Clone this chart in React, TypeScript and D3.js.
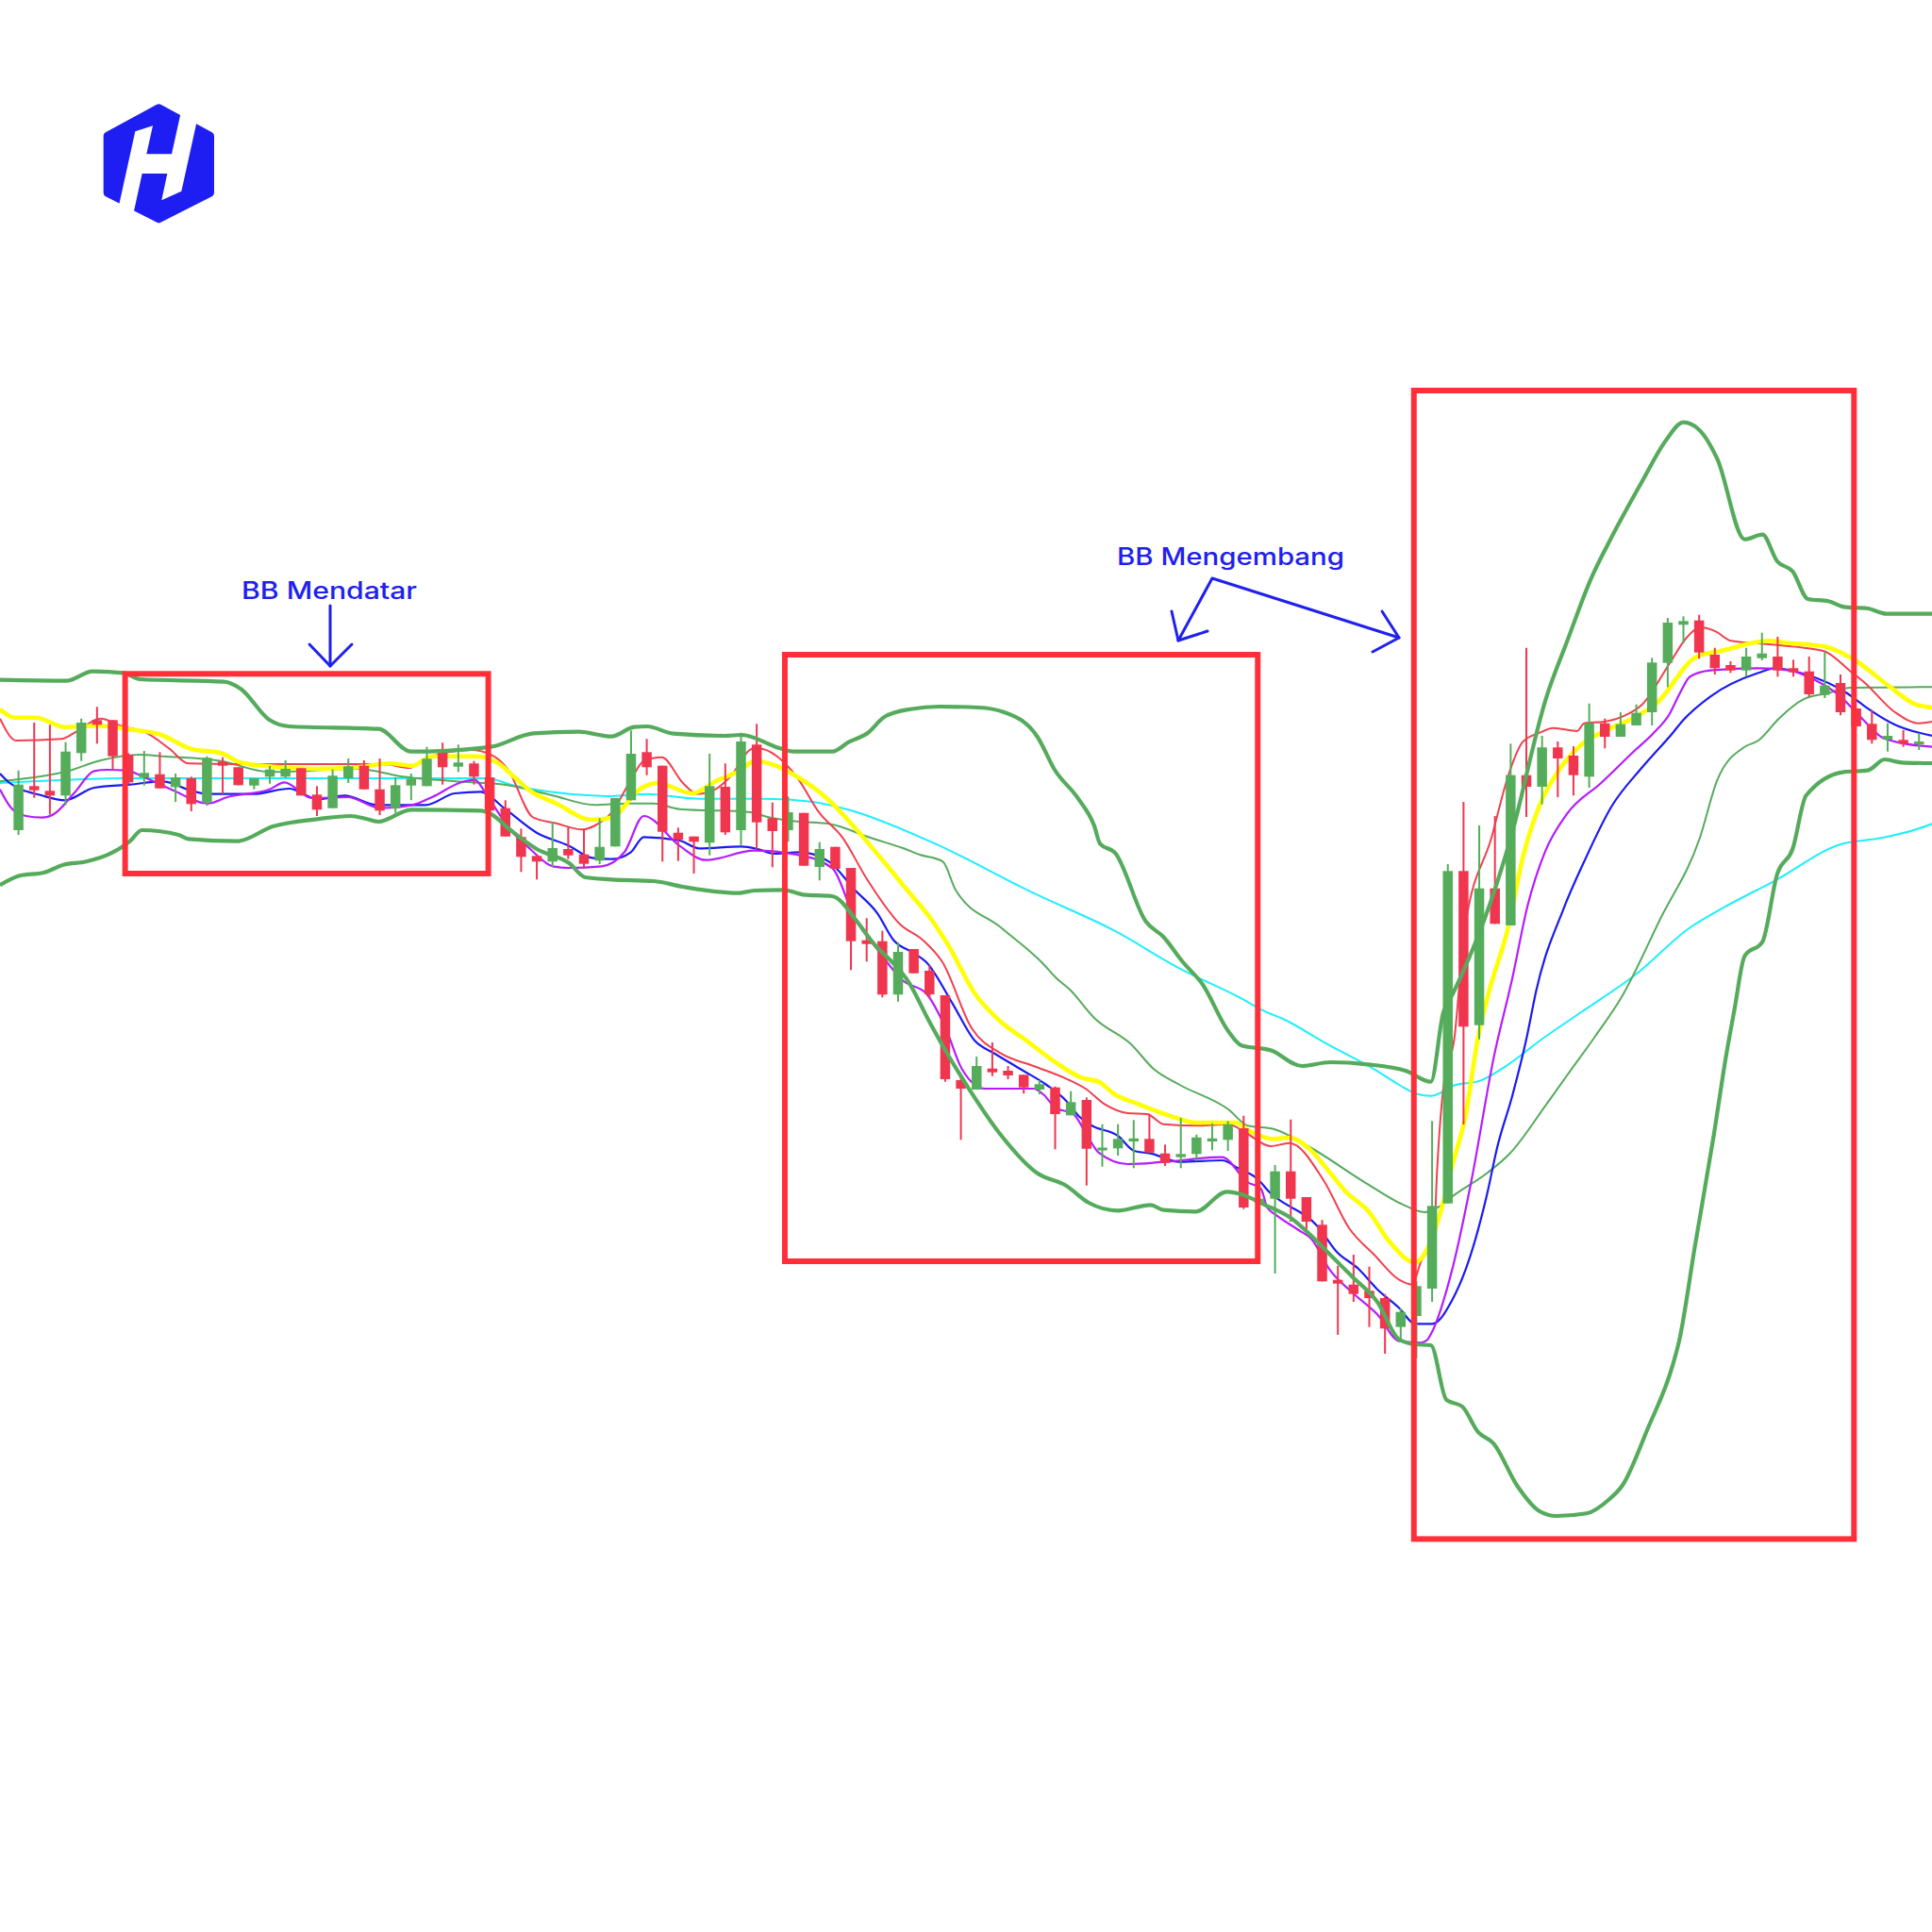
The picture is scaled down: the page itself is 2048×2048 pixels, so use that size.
import React from "react";
import * as d3 from "d3";

// ---- candle data (index 0..121), price units ----
const opens = [
  1120, 1166.7, 1161.7, 1156.7, 1201.7, 1236.7, 1236.7, 1200, 1176, 1179.3,
  1165.7, 1175, 1149.3, 1192.7, 1186.7, 1167.3, 1176.7, 1176.7, 1185.7, 1157.7,
  1143.3, 1175, 1188.3, 1163.3, 1143.3, 1167.3, 1166.7, 1202.7, 1187.3, 1190.7,
  1176, 1143.3, 1112.7, 1092.7, 1086.7, 1100, 1094.3, 1087.7, 1102.7, 1151.7,
  1202.7, 1188.3, 1117.3, 1113.3, 1106.7, 1166, 1120, 1210.7, 1132.7, 1120,
  1138.3, 1081, 1102.3, 1080, 1003.3, 1002.3, 945.7, 994, 971, 945,
  855, 845, 867.3, 865, 860.7, 845, 847.3, 817.7, 834, 780.7,
  782.7, 790, 792.7, 777.3, 773.3, 776.7, 790, 791.7, 804, 725,
  729.3, 758.3, 731, 701.7, 643.3, 638.3, 631.7, 624, 593.3, 605,
  634, 724.3, 1076.7, 913.3, 1058.3, 1019, 1178.3, 1166, 1207.7, 1199,
  1176.7, 1233.3, 1219, 1231, 1245, 1297.3, 1337.7, 1342.3, 1306, 1295,
  1289.3, 1302.3, 1304, 1291.7, 1288.3, 1263.3, 1276, 1249, 1232.7, 1216,
  1215.7, 1211.7,
];
const highs = [
  1183.3, 1234, 1231.7, 1213.3, 1238.3, 1250.7, 1236.7, 1201.7, 1204, 1202.7,
  1180, 1176.7, 1198.3, 1197.3, 1186.7, 1175, 1188.3, 1194, 1185.7, 1166.7,
  1184.3, 1196, 1194, 1196, 1176, 1180, 1208.3, 1212.7, 1210.7, 1193.3,
  1176, 1151.7, 1121.7, 1092.7, 1129, 1124, 1120.7, 1132.7, 1154, 1225.7,
  1216.7, 1188.3, 1122.7, 1113.3, 1201, 1190.7, 1223.3, 1232.7, 1149.3, 1155.7,
  1138.3, 1107.3, 1102.3, 1080, 1026.7, 1013.3, 1001, 994, 976.7, 945,
  859.3, 880, 895, 870, 860.7, 855, 848.3, 843.3, 836.7, 808.3,
  808.3, 812.7, 819.3, 786.7, 815, 797.3, 809.3, 811.7, 817.3, 750,
  765, 813.3, 731, 706.7, 658.3, 670, 657.3, 628.3, 613.3, 641.7,
  811.7, 1084, 1150, 1125, 1135, 1211.7, 1313.3, 1220, 1214, 1209,
  1254.3, 1238.3, 1245, 1253.3, 1302.7, 1345, 1346.7, 1348.3, 1313.3, 1299,
  1313.3, 1329.3, 1325, 1300.7, 1304, 1309.3, 1285, 1249, 1247.3, 1233.3,
  1226, 1222.7,
];
const lows = [
  1115, 1154.3, 1136.7, 1146.7, 1193.3, 1211.7, 1183.3, 1168.3, 1167.3, 1164.3,
  1150, 1140, 1146, 1158.3, 1167.7, 1163.3, 1169.3, 1175, 1156.7, 1135,
  1143.3, 1170, 1163.3, 1136, 1138.3, 1151.7, 1166.7, 1168.3, 1181.7, 1168.3,
  1137.3, 1113.3, 1075.7, 1067.7, 1080.7, 1089.3, 1079.3, 1084, 1102.7, 1151.7,
  1178.3, 1086.7, 1087.3, 1074, 1093.3, 1115, 1103.3, 1100, 1080.7, 1107.7,
  1082.3, 1066.7, 1079, 971.7, 980.7, 942.7, 938.3, 968.3, 941.7, 853.3,
  791.7, 845, 859.3, 856, 840.7, 840, 781.7, 817.7, 743.3, 763.3,
  775, 761.7, 778.3, 764, 761.7, 769.3, 780.7, 780, 718.3, 717.3,
  650, 705, 696.7, 641.7, 585, 620, 593.3, 565, 580, 560,
  620, 724.3, 808, 898.3, 1020.7, 1019, 1134, 1147.3, 1155, 1156.7,
  1165, 1206.7, 1219, 1231, 1231, 1271.7, 1318.3, 1301.7, 1285, 1286.7,
  1282.7, 1300, 1282.7, 1282.7, 1261.7, 1260, 1241.7, 1230, 1211.7, 1203.3,
  1208.3, 1205,
];
const closes = [
  1168.3, 1162.3, 1156.7, 1203.3, 1234, 1231.7, 1198.3, 1170.7, 1180.7, 1164.3,
  1176, 1147.7, 1196.7, 1188.3, 1167.7, 1175, 1184.3, 1185, 1156.7, 1141.7,
  1177.7, 1187.7, 1163.3, 1140.7, 1167.7, 1174.3, 1195.7, 1186.7, 1191.7, 1176.7,
  1140.7, 1113.3, 1091.7, 1086.7, 1101, 1093.3, 1084.3, 1102.3, 1154, 1201,
  1186.7, 1118.3, 1110, 1107.7, 1166.7, 1117.7, 1214, 1128.3, 1119, 1139,
  1082.3, 1100, 1079, 1002.3, 999.3, 945.7, 991, 968.3, 946, 856,
  846, 870, 863.3, 860, 847.3, 850.7, 819, 831.7, 782.3, 783.3,
  792.7, 793.3, 778.3, 767.3, 776.7, 794.3, 793.3, 808.3, 720, 729.3,
  758.3, 729.3, 705, 641.7, 639.3, 628.3, 624, 591.7, 609.3, 636.7,
  721.7, 1076.7, 911.7, 1058.3, 1020.7, 1178.3, 1166, 1207.7, 1196, 1178.3,
  1233.3, 1219, 1232.3, 1244.3, 1297.7, 1340, 1341.7, 1308.3, 1291.7, 1289.3,
  1304, 1307.3, 1289.3, 1287.3, 1264, 1273.3, 1245, 1230, 1215.7, 1220,
  1211.7, 1213.3,
];

type Knot = [number, number];

// ---- indicator lines: [bar index, price] ----
const upperBand: Knot[] = [
  [-1.18, 1279.3], [3.06, 1278.3], [4.72, 1288.3], [6.68, 1286.7], [7.72, 1280], [13.09, 1277.3],
  [14.13, 1270], [15.99, 1236.7], [17.23, 1230], [22.92, 1227.3], [24.99, 1203.3], [30.05, 1208.3],
  [32.78, 1222.7], [35.68, 1224.3], [37.75, 1219.3], [39.2, 1229.3], [40.02, 1230], [41.68, 1222.3],
  [44.98, 1220], [46.02, 1221], [48.5, 1206.7], [49.33, 1203.3], [51.81, 1203.3], [52.85, 1213.3],
  [54.09, 1223.3], [55.12, 1240], [56.78, 1248.3], [58.64, 1251], [61.12, 1250], [62.76, 1245],
  [64.87, 1219], [65.97, 1184], [67.46, 1153.6], [68.48, 1125], [68.87, 1105.3], [69.81, 1096.2],
  [71.77, 1023.3], [72.9, 1006.7], [74.14, 980], [75.38, 956.7], [77.03, 906.7], [77.86, 891.7],
  [79.72, 886.7], [81.71, 870], [83.51, 874], [85.91, 871.7], [88.31, 865], [89.92, 853.3],
  [90.71, 926.7], [91.32, 946.7], [92.32, 983.3], [93.32, 1025], [94.92, 1106.7], [97.29, 1261.7],
  [98.59, 1320], [100.12, 1386.7], [101.2, 1423.3], [103.38, 1490], [104.89, 1533.3], [105.99, 1552.3],
  [106.96, 1545], [108.16, 1513.3], [109.9, 1428.3], [111.03, 1433.3], [111.97, 1405], [112.95, 1394.3],
  [113.93, 1365], [115.23, 1362.7], [116.21, 1356.7], [117.73, 1355], [118.93, 1349.3], [121.83, 1349.3],
];
const lowerBand: Knot[] = [
  [-1.18, 1061.7], [0.07, 1071.7], [1.62, 1075], [2.86, 1083.3], [4.31, 1086.7], [7.1, 1108.3],
  [7.86, 1120], [10.2, 1115], [10.82, 1110.7], [13.92, 1108.3], [16.2, 1124], [18.99, 1131.7],
  [21.16, 1135], [22.2, 1131.7], [22.92, 1129], [24.99, 1141.7], [29.44, 1140.7], [30.05, 1137.3],
  [31.33, 1120], [32.99, 1100], [35.06, 1085], [36.09, 1070], [37.75, 1067.7], [40.44, 1066],
  [42.3, 1060], [45.81, 1053.3], [46.85, 1056], [48.71, 1056.7], [49.94, 1051.7], [51.8, 1050],
  [53.45, 1021.7], [54.28, 1003.3], [56.76, 956.7], [58, 916.7], [59.24, 880], [60.48, 846.7],
  [62.55, 796.7], [64.83, 756.7], [66.69, 743.3], [68.14, 725], [70, 716.7], [72.07, 722.7],
  [72.9, 717.3], [74.96, 715.7], [76.92, 736.7], [79.72, 720], [80.91, 710], [82.31, 690],
  [83.31, 673.3], [84.91, 646.7], [86.51, 620], [87.91, 580], [88.91, 575], [89.92, 574],
  [90.91, 516.1], [91.92, 509], [92.92, 482.1], [93.92, 469.7], [95.42, 425], [96.82, 398.3],
  [97.92, 393], [99.83, 395.7], [101.23, 410], [102.13, 425.7], [103.73, 485.7], [105.33, 553.6],
  [105.73, 578.6], [106.73, 678.6], [107.93, 796.4], [108.73, 882.1], [109.25, 930], [109.9, 986.7],
  [111.03, 1001.7], [111.97, 1073.3], [112.95, 1100], [113.81, 1156.7], [116.21, 1181.7], [117.73, 1183.3],
  [118.82, 1195], [119.9, 1191.7], [121.83, 1191],
];
const midBand: Knot[] = [
  [-1.18, 1171.7], [1.51, 1177.3], [2.96, 1181.7], [5.24, 1194], [7.72, 1200], [9.17, 1198.3],
  [12.89, 1193.3], [15.99, 1181.7], [21.57, 1185], [24.47, 1176.7], [28.85, 1170.7], [30.92, 1168.3],
  [34.02, 1156.7], [36.71, 1146.7], [38.78, 1148.3], [40.44, 1148.3], [42.09, 1142.3], [46.43, 1139.3],
  [47.88, 1133.3], [49.54, 1129.3], [51.6, 1126.7], [54.28, 1111.7], [56.35, 1100.7], [57.38, 1094],
  [58.85, 1086.7], [59.66, 1056.7], [62.55, 1016.7], [65.24, 978.3], [66.07, 963.3], [66.89, 951.7],
  [68.55, 920], [70.82, 893.3], [72.28, 866.7], [73.93, 850], [77.03, 824], [78.27, 806.7],
  [79.9, 803.3], [82.11, 785], [85.71, 746.7], [88.11, 723.3], [89.51, 715], [90.52, 721.7],
  [91.32, 732.1], [93.52, 756.7], [94.92, 776.7], [97.32, 830.4], [98.59, 860], [100.32, 900],
  [102.07, 943.3], [104.56, 1027], [107.05, 1112], [108.16, 1173.3], [109.9, 1208.3], [110.77, 1215],
  [112.08, 1238.3], [113.6, 1258.3], [115.12, 1265], [116.64, 1271], [121.83, 1271.7],
];
const yellowLine: Knot[] = [
  [-1.18, 1248.3], [-0.25, 1239.3], [1.1, 1239.3], [2.96, 1229.3], [5.03, 1230.7], [7.1, 1226.7],
  [8.96, 1221.7], [11.03, 1206], [12.89, 1201.7], [14.13, 1191.7], [16.2, 1187.3], [19.09, 1185],
  [21.57, 1186.7], [23.65, 1190.7], [25.09, 1188.3], [26.33, 1198.3], [29.02, 1198.3], [30.47, 1191.7],
  [31.54, 1176.7], [32.58, 1161.7], [34.23, 1148.3], [36.5, 1131], [37.75, 1133.3], [39.61, 1164],
  [40.64, 1170], [42.92, 1159], [44.37, 1171.7], [46.02, 1184], [46.85, 1193.3], [49.74, 1175],
  [51.6, 1151.7], [52.85, 1130], [54.92, 1090], [56.57, 1056.7], [58.21, 1023.3], [59.24, 996.7],
  [60.89, 946.7], [62.55, 916.7], [64.2, 896.7], [66.07, 873.3], [67.72, 857.3], [68.76, 853.3],
  [69.79, 840], [71.24, 830], [73.72, 815], [74.96, 810], [77.44, 810], [78.48, 800],
  [79.9, 792.7], [80.91, 794], [82.11, 783.3], [83.51, 756.7], [84.51, 736.7], [85.91, 716.7],
  [87.31, 683.3], [88.91, 661.7], [89.71, 676.7], [90.52, 714.3], [91.32, 766.7], [92.12, 816.7],
  [92.92, 900], [93.59, 946.7], [94.89, 1020], [95.76, 1090], [96.85, 1146.7], [97.93, 1180],
  [99.46, 1210], [101.2, 1226.7], [102.94, 1240], [104.25, 1254], [106.85, 1304], [108.38, 1310],
  [111.42, 1320.7], [112.73, 1318.3], [114.91, 1315], [117.09, 1298.3], [119.04, 1273.3], [120.78, 1253.3],
  [121.83, 1250],
];
const redLine: Knot[] = [
  [-1.18, 1238.3], [-0.14, 1215], [2.75, 1216.7], [3.58, 1223.3], [5.24, 1238.3], [6.47, 1230.7],
  [8.13, 1223.3], [9.58, 1206.7], [10.82, 1190.7], [13.92, 1190], [23.23, 1190], [24.89, 1186],
  [25.92, 1196], [28.82, 1205], [30.26, 1198.3], [31.13, 1185], [32.78, 1133.3], [34.23, 1127.3],
  [35.89, 1120.7], [36.71, 1125], [37.75, 1138.3], [38.99, 1173.3], [39.81, 1193.3], [40.95, 1197.3],
  [42.3, 1170], [43.23, 1158.3], [44.37, 1163.3], [45.4, 1178.3], [46.64, 1205.7], [47.06, 1206.7],
  [49.54, 1176.7], [50.99, 1138.3], [52.41, 1113.3], [54.07, 1066.7], [56.14, 1020], [57.59, 1003.3],
  [58.83, 980], [60.69, 910], [62.55, 883.3], [64.62, 870], [66.69, 856.7], [67.93, 846],
  [69.17, 829.3], [70.62, 820], [71.86, 819], [72.9, 808.3], [75.17, 806.7], [77.03, 808.3],
  [78.07, 800], [79.71, 785], [80.91, 788.3], [83.11, 748.3], [84.71, 698.3], [86.31, 670],
  [87.91, 643.3], [88.71, 638.3], [89.31, 663.3], [90.11, 686.7], [90.31, 757.1], [90.71, 846.4],
  [91.42, 900], [92.06, 1013.3], [93.8, 1113.3], [94.89, 1180], [95.76, 1213.3], [96.85, 1223.3],
  [97.72, 1228.3], [99.24, 1225], [99.68, 1233.3], [100.98, 1235], [102.5, 1243.3], [103.38, 1253.3],
  [105.12, 1296.7], [106.2, 1324], [107.08, 1335], [108.05, 1330.7], [109.03, 1320.7], [111.64, 1316.7],
  [114.91, 1310], [116.64, 1288.3], [117.51, 1276.7], [119.47, 1245], [120.99, 1233.3], [121.83, 1235],
];
const purpleLine: Knot[] = [
  [-1.18, 1163.3], [-0.45, 1143.3], [0.48, 1135], [1.51, 1133.3], [2.23, 1136.7], [3.58, 1160],
  [4.82, 1182.7], [5.65, 1184], [6.89, 1183.3], [7.92, 1176.7], [9.78, 1162.7], [12.06, 1148.3],
  [13.3, 1155], [15.99, 1163.3], [16.93, 1170.7], [18.68, 1154], [20.95, 1155], [23.03, 1143.3],
  [25.09, 1146.7], [26.33, 1155], [28.19, 1170.7], [29.02, 1173.3], [29.95, 1153.3], [31.33, 1120],
  [32.58, 1100], [34.02, 1081.7], [35.06, 1080], [37.13, 1081.7], [38.58, 1096.7], [39.81, 1135],
  [42.09, 1103.3], [43.75, 1088.3], [46.85, 1098.3], [49.54, 1094], [51.8, 1080], [53.24, 1026.7],
  [54.69, 993.3], [56.35, 960], [57.8, 946.7], [59.03, 910], [60.07, 866.7], [61.52, 846],
  [64.62, 846], [65.24, 840], [66.07, 825], [67.1, 820], [68.14, 793.3], [68.76, 778.3],
  [70.62, 766], [72.9, 768.3], [76.62, 773.3], [78.27, 746.7], [79.1, 740], [79.5, 720],
  [80.1, 711.7], [81.51, 696], [82.31, 686.7], [83.51, 653.3], [84.91, 630], [86.51, 606.7],
  [87.91, 578.3], [89.31, 576.7], [89.71, 580], [89.92, 585.7], [91.32, 657.1], [92.52, 750],
  [93.92, 878.6], [95.11, 963.3], [96.08, 1040], [97.18, 1096.7], [98.59, 1137.3], [100.76, 1170],
  [102.94, 1205], [104.03, 1221.7], [105.12, 1243.3], [105.77, 1265], [106.42, 1282.7], [107.72, 1289.3],
  [110.77, 1291.7], [112.73, 1289.3], [114.27, 1280], [116, 1261.7], [117.09, 1243.3], [118.83, 1216.7],
  [121.83, 1208.3],
];
const blueLine: Knot[] = [
  [-1.18, 1180], [-0.56, 1170], [1.51, 1156.7], [2.96, 1151.7], [4.82, 1165], [7.1, 1168.3],
  [9.17, 1171.7], [11.03, 1161.7], [12.06, 1158.3], [14.95, 1158.3], [17.23, 1164], [19.09, 1152.7],
  [20.75, 1156.7], [22.82, 1146.7], [25.92, 1146.7], [27.78, 1159], [29.44, 1160.7], [30.92, 1143.3],
  [32.99, 1117.3], [35.06, 1103.3], [36.5, 1090.7], [37.75, 1089.3], [38.99, 1096.7], [39.81, 1112.7],
  [42.09, 1109], [43.33, 1100.7], [46.02, 1102.7], [47.06, 1100], [48.09, 1095], [49.74, 1096.7],
  [51.6, 1086.7], [53.24, 1056.7], [54.69, 1031.7], [55.72, 1003.3], [56.97, 990], [57.8, 980],
  [59.45, 936.7], [60.89, 896.7], [62.14, 883.3], [63.79, 866.7], [65.45, 850], [66.69, 833.3],
  [67.51, 816.7], [68.34, 806.7], [70, 796], [71.03, 780], [72.07, 777.3], [73.93, 768.3],
  [76.62, 770], [77.65, 761.7], [78.9, 750], [79.72, 735], [80.1, 730], [82.71, 700],
  [83.91, 673.3], [85.31, 655], [86.51, 633.3], [87.91, 613.3], [88.91, 596.7], [90.01, 596.7],
  [91.32, 623.3], [92.12, 653.6], [93.52, 735.7], [94.12, 782.1], [95.12, 839.3], [96.02, 900],
  [96.63, 950], [98.37, 1036.7], [99.68, 1086.7], [101.42, 1145], [103.38, 1186.7], [105.33, 1223.3],
  [105.99, 1236.7], [107.72, 1261.7], [110.77, 1286.7], [111.86, 1291.7], [113.81, 1285], [116.43, 1265],
  [117.51, 1251.7], [119.47, 1231.7], [121.83, 1220],
];
const cyanLine: Knot[] = [
  [-1.18, 1170], [0.89, 1171.7], [6.68, 1175], [29.85, 1175], [31.33, 1168.3], [36.5, 1156.7],
  [37.75, 1156], [40.02, 1158.3], [43.33, 1153.3], [47.47, 1153.3], [50.57, 1150], [52.83, 1141.7],
  [58, 1108.3], [64.62, 1053.3], [69.79, 1013.3], [73.93, 973.3], [77.86, 941.7], [79.3, 928.3],
  [80.5, 920], [83.31, 893.3], [86.31, 866.7], [87.91, 850], [89.11, 840], [89.92, 838.3],
  [91.51, 850], [92.92, 853.6], [94.52, 867.9], [97.12, 900], [99.46, 926.7], [102.94, 966.7],
  [106.42, 1016.7], [108.6, 1038.3], [111.86, 1066.7], [116, 1105], [118.6, 1111.7], [120.99, 1121.7],
  [121.83, 1126.7],
];

// highlight boxes in data coordinates: [index from, index to, price top, price bottom]
const boxes: [number, number, number, number][] = [
  [6.79, 29.91, 1285.7, 1074],
  [48.79, 78.9, 1306, 663],
  [88.84, 116.86, 1586, 368.6],
];

const labels = ["BB Mendatar", "BB Mengembang"];

const C_GREEN = "#55ad5b";
const C_RED = "#f0364f";
const C_BAND = "#55ab5c";
const C_BLUE_TXT = "#2020ee";

export default function App() {
  const W = 2048;
  const H = 2048;
  const x = d3.scaleLinear().domain([0, 121]).range([19.6, 2034.25]);
  const y = d3.scaleLinear().domain([0, 2000]).range([2000, 0]);
  const line = d3
    .line<Knot>()
    .x((d) => x(d[0]))
    .y((d) => y(d[1]))
    .curve(d3.curveMonotoneX);

  const bw = 10.5;
  const candles = opens.map((o, i) => ({
    i,
    o,
    h: highs[i],
    l: lows[i],
    c: closes[i],
  }));

  const thin = [
    { d: cyanLine, color: "#1eeeff", w: 2 },
    { d: midBand, color: C_BAND, w: 2 },
    { d: blueLine, color: "#1a1af2", w: 2.2 },
    { d: purpleLine, color: "#b41cff", w: 2.2 },
    { d: redLine, color: "#f0404e", w: 2 },
    { d: yellowLine, color: "#ffff00", w: 4.6 },
  ];

  return (
    <div style={{ position: "absolute", left: 0, top: 0, width: W, height: H, background: "#fff" }}>
      <svg width={W} height={H} viewBox={`0 0 ${W} ${H}`} style={{ display: "block" }}>
        <rect x={0} y={0} width={W} height={H} fill="#ffffff" />

        {/* logo */}
        <g transform="translate(80,80) scale(0.3333)">
          <polygon
            points="265,104 428,192 428,373 265,456 102,373 102,192"
            fill="#1e1ef3"
            stroke="#1e1ef3"
            strokeWidth={26}
            strokeLinejoin="round"
          />
          <polygon
            points="190,178 246,160 226,250 306,250 348,60 405,60 337,368 274,397 292,312 212,312 171,500 119,500"
            fill="#ffffff"
            strokeLinejoin="round"
          />
        </g>

        {/* indicator lines */}
        {thin.map((l, k) => (
          <path key={k} d={line(l.d) || ""} fill="none" stroke={l.color} strokeWidth={l.w} strokeLinejoin="round" />
        ))}

        {/* candles */}
        {candles.map((c) => {
          const up = c.c >= c.o;
          const col = up ? C_GREEN : C_RED;
          const top = y(Math.max(c.o, c.c));
          const bot = y(Math.min(c.o, c.c));
          const hgt = Math.max(bot - top, 3);
          const cx = x(c.i);
          return (
            <g key={c.i}>
              <line x1={cx} x2={cx} y1={y(c.h)} y2={y(c.l)} stroke={col} strokeWidth={2} />
              <rect x={cx - bw / 2} y={top - (hgt - (bot - top)) / 2} width={bw} height={hgt} fill={col} />
            </g>
          );
        })}

        {/* bollinger outer bands */}
        <path d={line(upperBand) || ""} fill="none" stroke={C_BAND} strokeWidth={4.2} strokeLinejoin="round" />
        <path d={line(lowerBand) || ""} fill="none" stroke={C_BAND} strokeWidth={4.2} strokeLinejoin="round" />

        {/* highlight boxes */}
        {boxes.map((b, k) => (
          <rect
            key={k}
            x={x(b[0])}
            y={y(b[2])}
            width={x(b[1]) - x(b[0])}
            height={y(b[3]) - y(b[2])}
            fill="none"
            stroke="#ff2f3a"
            strokeWidth={6}
          />
        ))}

        {/* annotations */}
        <text
          x={256}
          y={635}
          fontFamily="Inter, 'Noto Sans', sans-serif"
          fontWeight={500}
          fontSize={25}
          fill={C_BLUE_TXT}
          textLength={186}
          lengthAdjust="spacingAndGlyphs"
        >
          {labels[0]}
        </text>
        <g stroke={C_BLUE_TXT} strokeWidth={3} fill="none" strokeLinecap="round" strokeLinejoin="round">
          <line x1={350} y1={642} x2={350} y2={706} />
          <polyline points="328,683 350,706 373,683" />
        </g>

        <text
          x={1184}
          y={599}
          fontFamily="Inter, 'Noto Sans', sans-serif"
          fontWeight={500}
          fontSize={25.5}
          fill={C_BLUE_TXT}
          textLength={241}
          lengthAdjust="spacingAndGlyphs"
        >
          {labels[1]}
        </text>
        <g stroke={C_BLUE_TXT} strokeWidth={3} fill="none" strokeLinecap="round" strokeLinejoin="round">
          <polyline points="1249,679 1285,613 1483,676" />
          <polyline points="1242,648 1249,679 1280,669" />
          <polyline points="1465,648 1483,676 1455,691" />
        </g>
      </svg>
    </div>
  );
}
